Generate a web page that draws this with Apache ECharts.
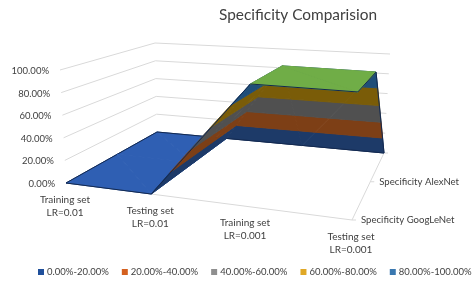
<!DOCTYPE html>
<html>
<head>
<meta charset="utf-8">
<style>html,body{margin:0;padding:0;background:#fff}#main{width:474px;height:286px}</style>
<script src="https://cdn.jsdelivr.net/npm/echarts@6/dist/echarts.min.js"></script>
</head>
<body>
<div id="main"></div>
<script>
var categories = ['Training set\nLR=0.01', 'Testing set\nLR=0.01', 'Training set\nLR=0.001', 'Testing set\nLR=0.001'];
var rowLabels = ['Specificity GoogLeNet', 'Specificity AlexNet', ''];
var googLeNet = [0, 0, 0.98, 0.97];
var alexNet = [0, 0, 0.98, 0.97];
var emptyRow = [0, 0, 0, 0];
var valueTicks = [0, 0.2, 0.4, 0.6, 0.8, 1];
var bandNames = ['0.00%-20.00%', '20.00%-40.00%', '40.00%-60.00%', '60.00%-80.00%', '80.00%-100.00%'];

var rows = [googLeNet, alexNet, emptyRow];
var legendColors = ['#1f4f9b', '#d4601f', '#8f8f8f', '#e0a826', '#3a78b0'];
var topColors = ['#2f5fb3', '#ed7d31', '#a5a5a5', '#ffc000', '#70ad47'];
var underColors = ['#1d3a68', '#7d3f16', '#505050', '#7a5c08', '#1f4e79'];
var FONT = 'Lato, "Noto Sans", sans-serif';

// corners of the chart box on screen: floor and 100% plane
var floorBox = [[66, 183], [352, 220], [384, 153], [157, 132]];
var topBox = [[60, 70], [358, 88], [390, 54], [155, 43]];

function squareToQuad(q) {
    var dx1 = q[1][0] - q[2][0], dx2 = q[3][0] - q[2][0], dx3 = q[0][0] - q[1][0] + q[2][0] - q[3][0];
    var dy1 = q[1][1] - q[2][1], dy2 = q[3][1] - q[2][1], dy3 = q[0][1] - q[1][1] + q[2][1] - q[3][1];
    var den = dx1 * dy2 - dx2 * dy1;
    var g = (dx3 * dy2 - dx2 * dy3) / den, h = (dx1 * dy3 - dx3 * dy1) / den;
    var a = q[1][0] - q[0][0] + g * q[1][0], b = q[3][0] - q[0][0] + h * q[3][0];
    var d = q[1][1] - q[0][1] + g * q[1][1], e = q[3][1] - q[0][1] + h * q[3][1];
    return function (s, t) {
        var w = g * s + h * t + 1;
        return [(a * s + b * t + q[0][0]) / w, (d * s + e * t + q[0][1]) / w];
    };
}
var floorMap = squareToQuad(floorBox), topMap = squareToQuad(topBox);

// p = [category 0..1, row 0..1, value 0..1]
function project(p) {
    var f = floorMap(p[0], p[1]), u = topMap(p[0], p[1]);
    return [f[0] + (u[0] - f[0]) * p[2], f[1] + (u[1] - f[1]) * p[2]];
}

function clip(poly, level, keepAbove) {
    var out = [];
    poly.forEach(function (cur, i) {
        var next = poly[(i + 1) % poly.length];
        var curIn = keepAbove ? cur[2] >= level : cur[2] <= level;
        var nextIn = keepAbove ? next[2] >= level : next[2] <= level;
        if (curIn) out.push(cur);
        if (curIn !== nextIn) {
            var k = (level - cur[2]) / (next[2] - cur[2]);
            out.push([cur[0] + (next[0] - cur[0]) * k, cur[1] + (next[1] - cur[1]) * k, level]);
        }
    });
    return out;
}

function area(pts) {
    var sum = 0;
    pts.forEach(function (a, i) {
        var b = pts[(i + 1) % pts.length];
        sum += a[0] * b[1] - b[0] * a[1];
    });
    return sum / 2;
}

var floorSign = area(floorBox) > 0 ? 1 : -1;
var bandPolys = bandNames.map(function () { return []; });
var edges = [];
var order = 0;

function gridPoint(c, r) {
    return [c / (categories.length - 1), r / (rows.length - 1), rows[r][c]];
}

function addTriangle(tri) {
    order++;
    var flipped = area(tri.map(project)) * floorSign < 0;
    bandNames.forEach(function (name, b) {
        var lo = valueTicks[b], hi = valueTicks[b + 1];
        var poly = clip(clip(tri, lo, true), hi, false);
        if (poly.length > 2 && Math.abs(area(poly.map(project))) > 0.01) {
            bandPolys[b].push({
                pts: poly,
                z: order,
                color: flipped ? underColors[b] : topColors[b]
            });
        }
    });
}

// painter's order: back row first, left to right (camera stands front right)
for (var r = rows.length - 2; r >= 0; r--) {
    for (var c = 0; c < categories.length - 1; c++) {
        var p00 = gridPoint(c, r), p10 = gridPoint(c + 1, r);
        var p01 = gridPoint(c, r + 1), p11 = gridPoint(c + 1, r + 1);
        addTriangle([p01, p10, p11]);
        addTriangle([p00, p10, p01]);
        // outline of the sheet
        if (r === 0) edges.push({ a: p00, b: p10, z: order });
        if (r === rows.length - 2) edges.push({ a: p01, b: p11, z: order });
        if (c === 0) edges.push({ a: p00, b: p01, z: order });
        if (c === categories.length - 2) edges.push({ a: p10, b: p11, z: order });
    }
}

var gridLines = [[[0, 0, 0], [1, 0, 0]], [[1, 0, 0], [1, 1, 0]]];
valueTicks.forEach(function (v) {
    gridLines.push([[0, 0, v], [0, 1, v]]);
    gridLines.push([[0, 1, v], [1, 1, v]]);
});

var labels = [];
categories.forEach(function (text, i) {
    var pos = project([i / (categories.length - 1), 0, 0]);
    labels.push({ text: text, x: pos[0] - 1, y: pos[1] + 23, align: 'center', size: 10 });
});
valueTicks.forEach(function (v) {
    var pos = project([0, 0, v]);
    labels.push({ text: (v * 100).toFixed(2) + '%', x: pos[0] - 11, y: pos[1] + 1, align: 'right', size: 9.5 });
});
rowLabels.forEach(function (text, i) {
    var pos = project([1, i / (rows.length - 1), 0]);
    labels.push({ text: text, x: pos[0] + 9, y: pos[1], align: 'left', size: 9.6 });
});

function coords(api, pts) {
    return pts.map(function (p) {
        var xy = project(p);
        return api.coord([xy[0], xy[1]]);
    });
}

var series = bandNames.map(function (name, b) {
    return {
        type: 'custom',
        name: name,
        coordinateSystem: 'cartesian2d',
        itemStyle: { color: legendColors[b] },
        silent: true,
        clip: false,
        data: bandPolys[b].map(function (p, i) { return [i]; }),
        renderItem: function (params, api) {
            var poly = bandPolys[b][params.dataIndex];
            return {
                type: 'polygon',
                z2: poly.z * 2,
                shape: { points: coords(api, poly.pts) },
                style: { fill: poly.color, stroke: poly.color, lineWidth: 1 }
            };
        }
    };
});

series.push({
    type: 'custom',
    name: 'walls',
    silent: true,
    clip: false,
    z: 1,
    data: gridLines.map(function (l, i) { return [i]; }),
    renderItem: function (params, api) {
        var pts = coords(api, gridLines[params.dataIndex]);
        return {
            type: 'line',
            shape: { x1: pts[0][0], y1: pts[0][1], x2: pts[1][0], y2: pts[1][1] },
            style: { stroke: '#d9d9d9', lineWidth: 1 }
        };
    }
});

series.push({
    type: 'custom',
    name: 'outline',
    silent: true,
    clip: false,
    data: edges.map(function (l, i) { return [i]; }),
    renderItem: function (params, api) {
        var edge = edges[params.dataIndex];
        var pts = coords(api, [edge.a, edge.b]);
        return {
            type: 'line',
            z2: edge.z * 2 + 1,
            shape: { x1: pts[0][0], y1: pts[0][1], x2: pts[1][0], y2: pts[1][1] },
            style: { stroke: '#12284f', lineWidth: 1 }
        };
    }
});

// short ticks on the row axis
series.push({
    type: 'custom',
    name: 'rowTicks',
    silent: true,
    clip: false,
    z: 1,
    data: rows.map(function (l, i) { return [i]; }),
    renderItem: function (params, api) {
        var pos = project([1, params.dataIndex / (rows.length - 1), 0]);
        var from = api.coord(pos), to = api.coord([pos[0] + 4, pos[1]]);
        return {
            type: 'line',
            shape: { x1: from[0], y1: from[1], x2: to[0], y2: to[1] },
            style: { stroke: '#d9d9d9', lineWidth: 1 }
        };
    }
});

series.push({
    type: 'custom',
    name: 'labels',
    silent: true,
    clip: false,
    z: 5,
    data: labels.map(function (l, i) { return [i]; }),
    renderItem: function (params, api) {
        var l = labels[params.dataIndex];
        var xy = api.coord([l.x, l.y]);
        return {
            type: 'text',
            x: xy[0],
            y: xy[1],
            style: {
                text: l.text,
                fill: '#404040',
                font: l.size + 'px ' + FONT,
                lineHeight: 13,
                align: l.align,
                verticalAlign: 'middle'
            }
        };
    }
});

var myChart = echarts.init(document.getElementById('main'));

myChart.setOption({
    animation: false,
    title: {
        text: 'Specificity Comparision',
        left: 298,
        top: 8,
        padding: 0,
        textAlign: 'center',
        textStyle: { fontFamily: FONT, fontSize: 15.4, fontWeight: 'normal', color: '#404040' }
    },
    legend: {
        data: bandNames,
        left: 38,
        top: 267,
        width: 1000,
        padding: 0,
        icon: 'rect',
        itemWidth: 6,
        itemHeight: 6,
        itemGap: 13,
        textStyle: { fontFamily: FONT, fontSize: 9.5, color: '#404040', padding: [0, 0, 0, -2] }
    },
    grid: { left: 0, right: 0, top: 0, bottom: 0 },
    xAxis: { type: 'value', min: 0, max: 474, show: false },
    yAxis: { type: 'value', min: 0, max: 286, inverse: true, show: false },
    series: series
});
</script>
</body>
</html>
